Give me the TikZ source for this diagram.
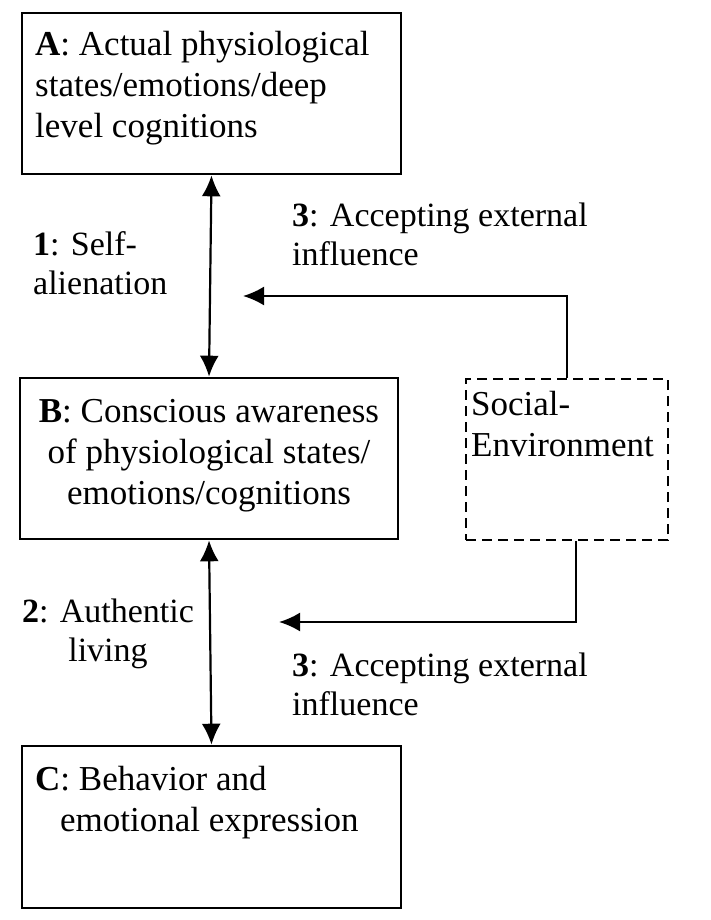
\documentclass[tikz,border=0pt]{standalone}
\usepackage{fontspec}
\setmainfont{Liberation Serif}
\usetikzlibrary{calc, arrows.meta}
\tikzset{>={Latex[length=21pt,width=19pt]}}
\tikzset{
  box/.style={draw, line width=2.6pt, inner sep=0pt, minimum height=161pt},
  envbox/.style={box, dash pattern=on 10pt off 6pt},
  txt/.style={font=\fontsize{35}{41}\selectfont, inner sep=0pt, align=left},
  lbl/.style={txt, font=\fontsize{34}{39}\selectfont},
  link/.style={line width=2.2pt}
}

\begin{document}
\begin{tikzpicture}[x=1pt, y=-1pt]
\useasboundingbox (0,0) rectangle (710,920);
% boxes
\node[box, minimum width=379pt] (A) at (211.5,93.5) {};
\node[box, minimum width=378pt] (B) at (209,458.5) {};
\node[box, minimum width=379pt, minimum height=162pt] (C) at (211.5,827) {};
\node[envbox, minimum width=202pt] (S) at (567,459.5) {};
% box texts
\node[txt, anchor=north west] (tA) at (35,31) {\textbf{A}: Actual physiological\\states/emotions/deep\\level cognitions};
\node[txt, anchor=north, align=center] (tB) at (209,399) {\textbf{B}: Conscious awareness\\of physiological states/\\emotions/cognitions};
\node[txt, anchor=north west] (tC) at (35,766) {\textbf{C}: Behavior and\\\hspace*{25pt}emotional expression};
\node[txt, anchor=north west] (tS) at (471,391) {Social-\\Environment};
% labels
\node[lbl, anchor=north west] (l1) at (33,231) {\textbf{1}: Self-\\alienation};
\node[lbl, anchor=north, align=center] (l2) at (108,599) {\textbf{2}: Authentic\\living};
\node[lbl, anchor=north west] (l3a) at (292,203) {\textbf{3}: Accepting external\\influence};
\node[lbl, anchor=north west] (l3b) at (292,653) {\textbf{3}: Accepting external\\influence};
% connectors
\coordinate (in1) at (243,296);
\coordinate (in2) at (279,622);
\draw[link, <->] (A.south) -- (B.north);
\draw[link, <->] (B.south) -- (C.north);
\draw[link, ->] (S.north) |- (in1);
\draw[link, ->] ([xshift=9pt]S.south) |- (in2);
\end{tikzpicture}
\end{document}
